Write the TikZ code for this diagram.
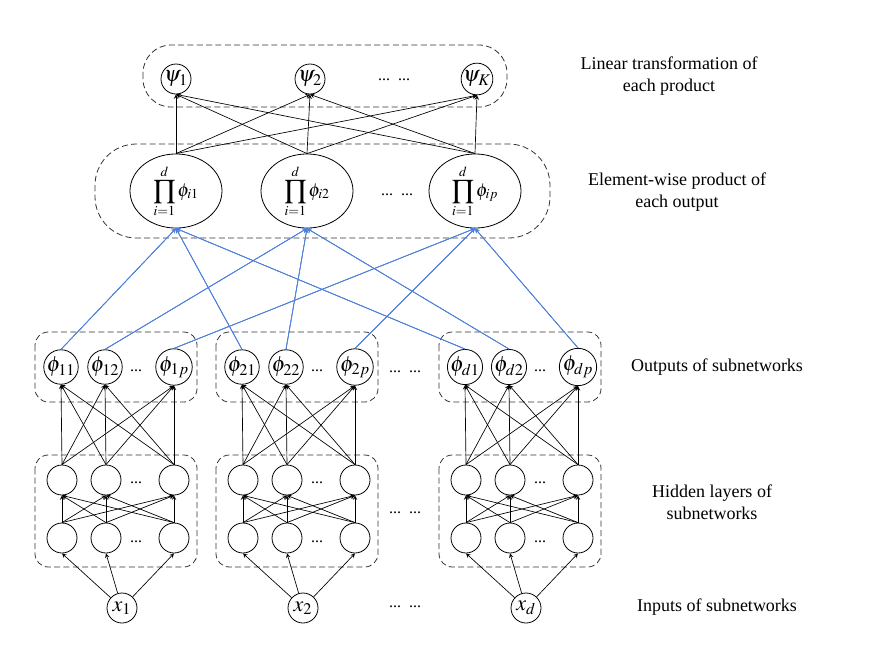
\documentclass[tikz,border=0pt]{standalone}
\usepackage{amsmath}
\usepackage{mathptmx}
\usepackage{fontspec}
\setmainfont{Liberation Serif}
\usepackage{tikz}
\usetikzlibrary{shapes.geometric}
\definecolor{linkblue}{RGB}{79,129,217}

\begin{document}
\begin{tikzpicture}[x=0.75pt, y=-0.75pt, >=stealth,
  unit/.style={circle, draw, line width=0.6pt, minimum size=22.5pt, inner sep=0pt, font=\fontsize{16.5}{18}\selectfont},
  produnit/.style={ellipse, draw, line width=0.6pt, minimum width=69pt, minimum height=46.5pt, inner sep=0pt, font=\fontsize{14}{16}\selectfont},
  groupbox/.style={draw=black!80, line width=0.6pt, dash pattern=on 4.5pt off 2.5pt, rounded corners=10pt},
  caption/.style={align=center, font=\fontsize{13.5}{16.5}\selectfont},
  gap/.style={inner sep=0pt, font=\fontsize{12}{14}\selectfont},
  link/.style={->, line width=0.5pt}]
\useasboundingbox (0,0) rectangle (872,654);

% linear transformation
\draw[groupbox, rounded corners=21pt] (143,45) rectangle (507,107);
\node[unit] (k1) at (176,79) {$\psi_1$};
\node[unit] (k2) at (310,79) {$\psi_2$};
\node[unit] (k3) at (477,79) {$\psi_K$};
\node[gap] (e1) at (394,80) {...\ \ ...};

% element-wise products
\draw[groupbox, rounded corners=31pt] (95,144) rectangle (550,238);
\node[produnit] (m1) at (176,191) {$\displaystyle\prod_{i=1}^{d}\phi_{i1}$};
\node[produnit] (m2) at (307,191) {$\displaystyle\prod_{i=1}^{d}\phi_{i2}$};
\node[produnit] (m3) at (475,191) {$\displaystyle\prod_{i=1}^{d}\phi_{ip}$};
\node[gap] (e2) at (397,195) {...\ \ ...};

\foreach \i in {1,2,3}
  \foreach \j in {1,2,3}
    \draw[link] (m\i.north) -- (k\j.south);

% subnetworks
\foreach \g/\b/\s in {1/61/1, 2/242/2, 3/465/d} {
  \draw[groupbox] (\b-26,332) rectangle (\b+136,402);
  \draw[groupbox] (\b-26,455) rectangle (\b+136,567);
  \node[unit] (o-\g-1) at (\b,367) {$\phi_{\s 1}$};
  \node[unit] (o-\g-2) at (\b+44,367) {$\phi_{\s 2}$};
  \node[unit] (o-\g-3) at (\b+113,367) {$\phi_{\s p}$};
  \node[unit] (h-\g-1) at (\b+1,480) {};
  \node[unit] (h-\g-2) at (\b+45,480) {};
  \node[unit] (h-\g-3) at (\b+113,480) {};
  \node[unit] (l-\g-1) at (\b+1,538) {};
  \node[unit] (l-\g-2) at (\b+45,538) {};
  \node[unit] (l-\g-3) at (\b+113,538) {};
  \node[unit] (x-\g) at (\b+61,608) {$x_{\s}$};
  \node[gap] (d-\g-1) at (\b+75,371) {...};
  \node[gap] (d-\g-2) at (\b+75,483) {...};
  \node[gap] (d-\g-3) at (\b+75,542) {...};
  \foreach \i in {1,2,3} {
    \draw[link] (x-\g) -- (l-\g-\i.south);
    \foreach \j in {1,2,3} {
      \draw[link] (l-\g-\i.north) -- (h-\g-\j.south);
      \draw[link] (h-\g-\i.north) -- (o-\g-\j.south);
      \draw[link, linkblue] (o-\g-\j.north) -- (m\j.south);
    }
  }
}
\node[gap] (e3) at (405,372) {...\ \ ...};
\node[gap] (e4) at (405,513) {...\ \ ...};
\node[gap] (e5) at (405,607) {...\ \ ...};

% captions
\node[caption] (c1) at (669,76) {Linear transformation of\\each product};
\node[caption] (c2) at (677,192) {Element-wise product of\\each output};
\node[caption] (c3) at (717,367) {Outputs of subnetworks};
\node[caption] (c4) at (712,502) {Hidden layers of\\subnetworks};
\node[caption] (c5) at (717,607) {Inputs of subnetworks};
\end{tikzpicture}
\end{document}
